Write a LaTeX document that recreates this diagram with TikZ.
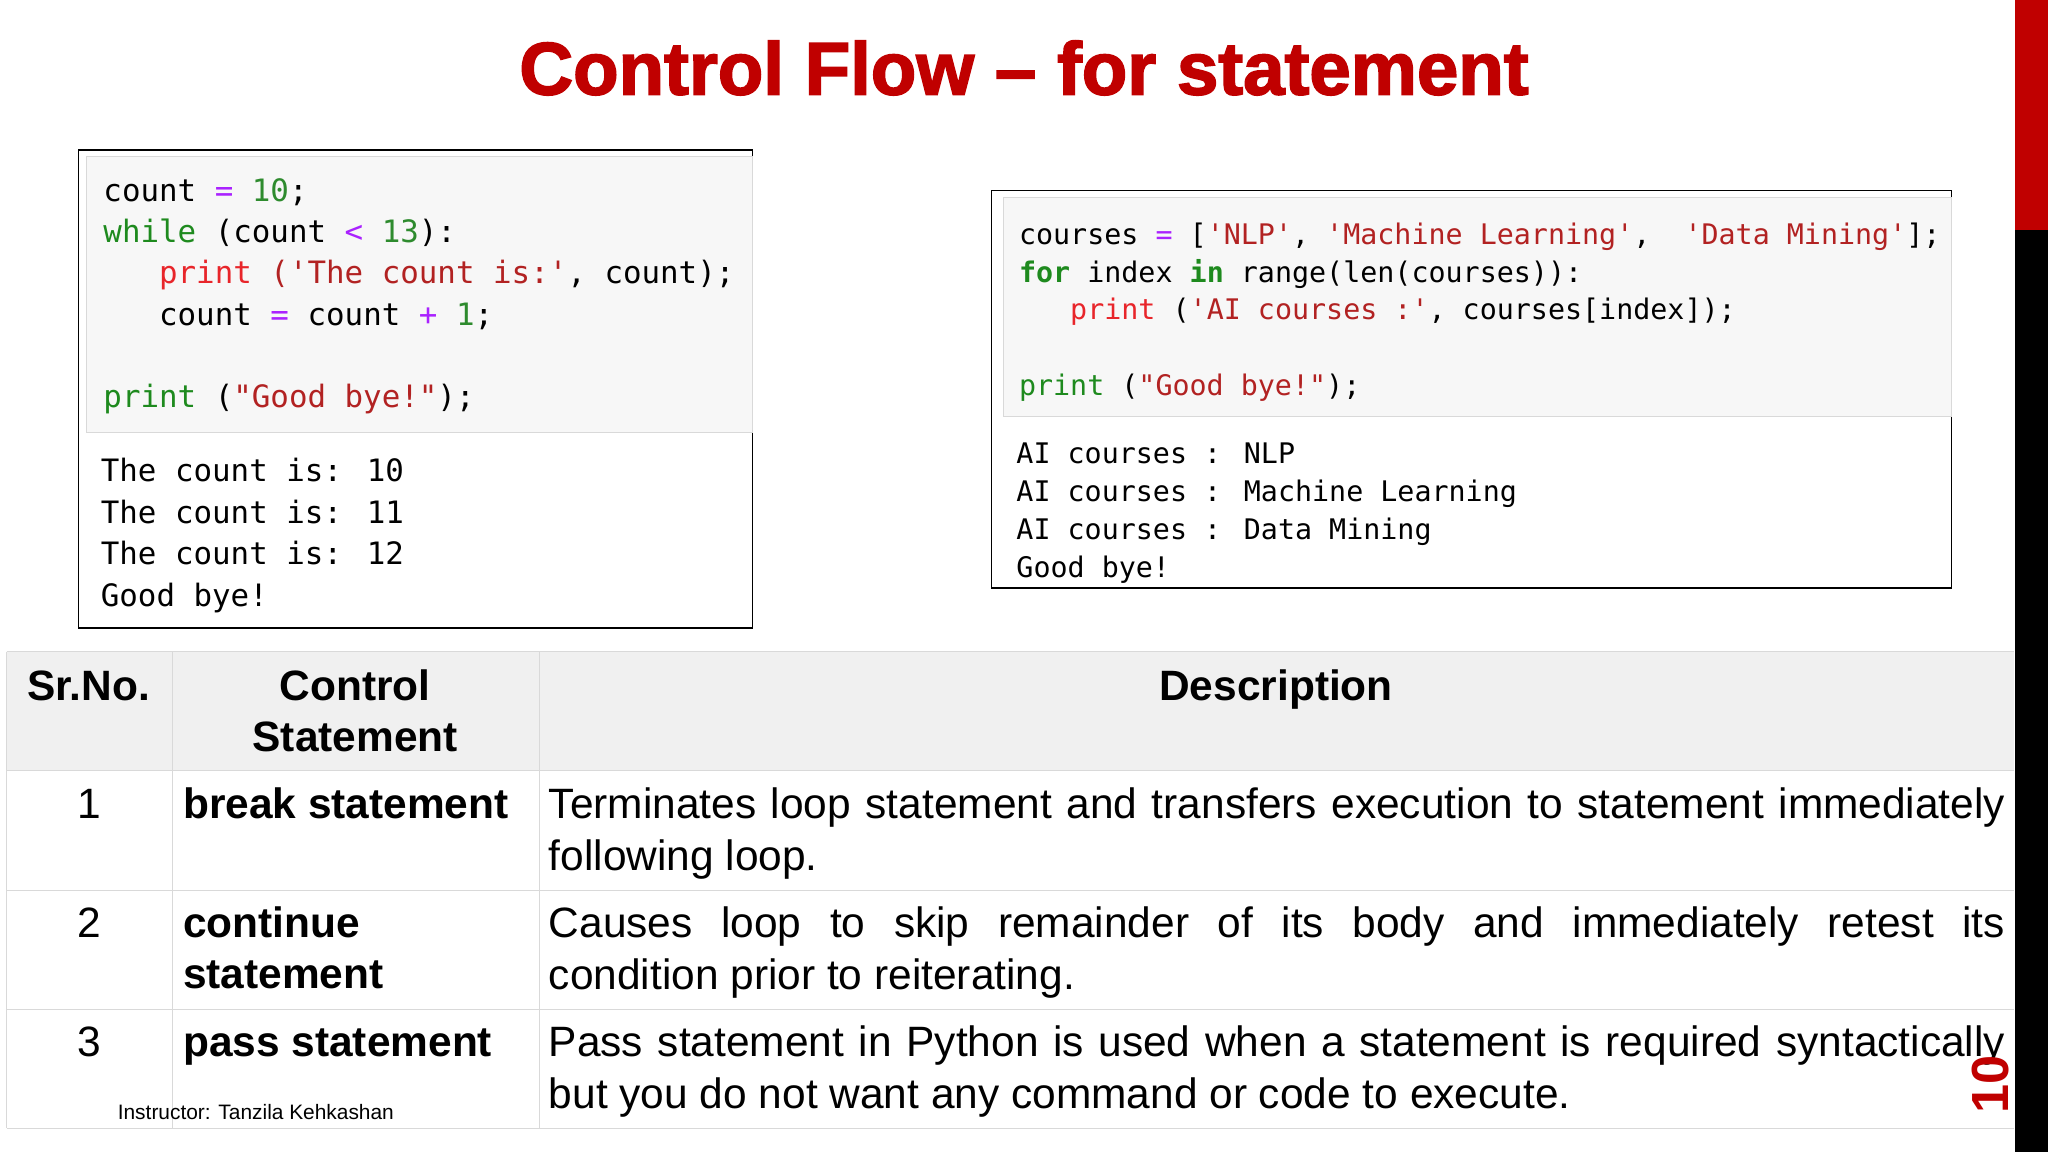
\documentclass[tikz,border=0pt]{standalone}
\usepackage{fontspec}
\setmainfont{Liberation Sans}
\newfontfamily\codef{DejaVu Sans Mono}
\newfontfamily\titf[FakeBold=2.2]{Liberation Sans Bold}
\definecolor{kwc}{HTML}{1E8A1E}
\definecolor{stc}{HTML}{B22222}
\definecolor{opc}{HTML}{AA22FF}
\definecolor{nmc}{HTML}{2E8B2E}
\definecolor{prc}{HTML}{E8252A}
\definecolor{titc}{HTML}{C00000}
\definecolor{codebg}{HTML}{F7F7F7}
\definecolor{gridc}{HTML}{D9D9D9}
\newcommand\cK[1]{\textcolor{kwc}{#1}}
\newcommand\cKb[1]{\textcolor{kwc}{\bfseries #1}}
\newcommand\cS[1]{\textcolor{stc}{#1}}
\newcommand\cO[1]{\textcolor{opc}{#1}}
\newcommand\cN[1]{\textcolor{nmc}{#1}}
\newcommand\cP[1]{\textcolor{prc}{#1}}
\tikzset{
 codeL/.style={anchor=base west,inner sep=0pt,font=\codef\fontsize{23.6}{28}\selectfont},
 codeR/.style={anchor=base west,inner sep=0pt,font=\codef\fontsize{21.7}{26}\selectfont},
 cell/.style={anchor=base west,inner sep=0pt,font=\fontsize{32.5}{40}\selectfont},
 cellb/.style={cell,font=\bfseries\fontsize{32.5}{40}\selectfont},
}
\begin{document}
\begin{tikzpicture}[x=1pt,y=-1pt]
\useasboundingbox (0,0) rectangle (1568,882);
\fill[white] (0,0) rectangle (1568,882);
% right strip
\fill[titc] (1543,0) rectangle (1568,176);
\fill[black] (1543,176) rectangle (1568,882);
\node[text=titc,font=\titf\fontsize{57}{60}\selectfont] (title) at (784,52) {Control Flow – for statement};
% left code box
\draw[line width=1.2pt] (60,115) rectangle (576,481);
\filldraw[fill=codebg,draw=gridc] (66,120) rectangle (576,331);
\node[codeL] (l1) at (79,154) {count \cO{=} \cN{10};};
\node[codeL] (l2) at (79,186) {\cK{while} (count \cO{<} \cN{13}):};
\node[codeL] (l3) at (79,217) {~~~\cP{print} \cS{('The count is:'}, count);};
\node[codeL] (l4) at (79,249) {~~~count \cO{=} count \cO{+} \cN{1};};
\node[codeL] (l5) at (79,312) {\cK{print} (\cS{"Good bye!"});};
\node[codeL] (o1) at (77,369) {The count is: 10};
\node[codeL] (o2) at (77,401) {The count is: 11};
\node[codeL] (o3) at (77,432) {The count is: 12};
\node[codeL] (o4) at (77,464) {Good bye!};
% right code box
\draw[line width=1.2pt] (759,146) rectangle (1494,450);
\filldraw[fill=codebg,draw=gridc] (768,151) rectangle (1494,319);
\node[codeR] (r1) at (780,187) {courses \cO{=} [\cS{'NLP'}, \cS{'Machine Learning'}, ~\cS{'Data Mining'}];};
\node[codeR] (r2) at (780,216) {\cKb{for} index \cKb{in} range(len(courses)):};
\node[codeR] (r3) at (780,245) {~~~\cP{print} (\cS{'AI courses :'}, courses[index]);};
\node[codeR] (r4) at (780,303) {\cK{print} (\cS{"Good bye!"});};
\node[codeR] (q1) at (778,355) {AI courses : NLP};
\node[codeR] (q2) at (778,384) {AI courses : Machine Learning};
\node[codeR] (q3) at (778,413) {AI courses : Data Mining};
\node[codeR] (q4) at (778,442) {Good bye!};
% table
\fill[black!6] (5,499) rectangle (1542,590);
\draw[gridc,line width=1pt] (5,499) -- (1542,499) (5,590) -- (1542,590) (5,682) -- (1542,682) (5,773) -- (1542,773) (5,864) -- (1542,864)
 (5,499) -- (5,864) (132,499) -- (132,864) (413,499) -- (413,864);
\node[cellb,anchor=base] (h1) at (68,536) {Sr.No.};
\node[cellb,anchor=base] (h2) at (272,536) {Control};
\node[cellb,anchor=base] (h2b) at (272,575) {Statement};
\node[cellb,anchor=base] (h3) at (977,536) {Description};
\node[cell,anchor=base] (n1) at (68,627) {1};
\node[cell,anchor=base] (n2) at (68,718) {2};
\node[cell,anchor=base] (n3) at (68,809) {3};
\node[cellb] (s1) at (140,627) {break statement};
\node[cellb] (s2) at (140,718) {continue};
\node[cellb] (s2b) at (140,757) {statement};
\node[cellb] (s3) at (140,809) {pass statement};
\tikzset{desc/.style={anchor=base west,inner sep=0pt,text width=1115pt,align=justify,font=\fontsize{32.5}{39.5}\selectfont}}
\node[desc] (d1) at (420,627) {Terminates loop statement and transfers execution to statement immediately following loop.};
\node[desc] (d2) at (420,718) {Causes loop to skip remainder of its body and immediately retest its\linebreak condition prior to reiterating.};
\node[desc] (d3) at (420,809) {Pass statement in Python is used when a statement is required syntactically but you do not want any command or code to execute.};
\node[anchor=base west,inner sep=0pt,font=\fontsize{16}{18}\selectfont] (foot) at (90,857) {Instructor: Tanzila Kehkashan};
\node[rotate=90,text=titc,font=\bfseries\fontsize{40}{40}\selectfont] (pg) at (1524,830) {10};
\end{tikzpicture}
\end{document}
